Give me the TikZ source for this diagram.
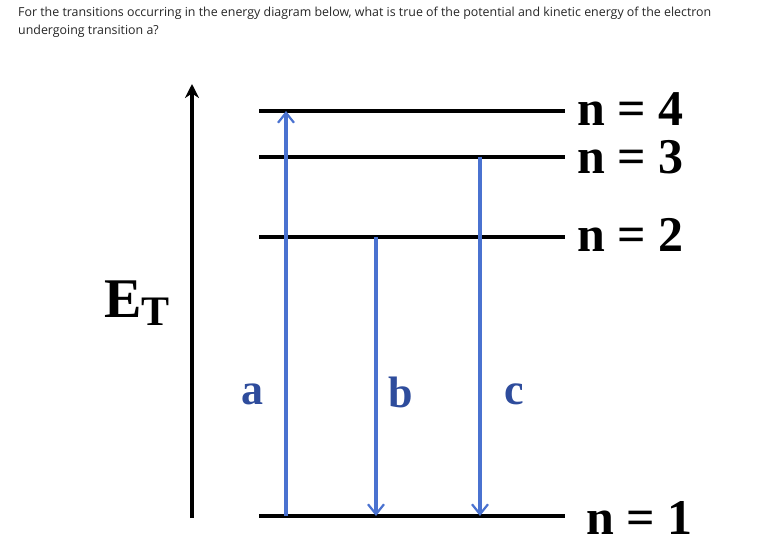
\documentclass[tikz,border=0pt]{standalone}
\usepackage{fontspec}
\setmainfont{Liberation Serif}
\newfontfamily\qfont{Open Sans}
\usetikzlibrary{arrows.meta}
\definecolor{arrblue}{HTML}{4A72D0}
\definecolor{lblblue}{HTML}{2E4C9C}
\begin{document}
\begin{tikzpicture}[x=1pt,y=-1pt,
  level/.style={line width=3.2pt},
  trans/.style={line width=3.4pt,arrblue,-{Straight Barb[length=10pt,width=16pt,line width=2.2pt]}},
  nlabel/.style={anchor=west,font=\bfseries\fontsize{50}{50}\selectfont,inner sep=0pt},
  tlabel/.style={font=\bfseries\fontsize{44}{44}\selectfont,lblblue,inner sep=0pt}]
\useasboundingbox (0,0) rectangle (772,539);
\node[anchor=north west,align=left,font=\qfont\fontsize{12.4}{18}\selectfont,text=black!85,inner sep=0pt] (q) at (18,7)
 {For the transitions occurring in the energy diagram below, what is true of the potential and kinetic energy of the electron\\undergoing transition a?};
\coordinate (ax0) at (192,518);
\coordinate (ax1) at (192,84);
\draw[line width=3.2pt,-{Stealth[length=14pt,width=14pt]}] (ax0) -- (ax1);
\node[font=\bfseries\fontsize{56}{56}\selectfont,inner sep=0pt] (E) at (137,303) {E\raisebox{-0.3ex}{\fontsize{42}{42}\selectfont T}};
\foreach \n/\y in {4/111,3/157,2/237,1/516}{
  \coordinate (L\n a) at (259,\y);
  \coordinate (L\n b) at (565,\y);
  \draw[level] (L\n a) -- (L\n b);
}
\node[nlabel] (n4) at (577,109) {n = 4};
\node[nlabel] (n3) at (577,157) {n = 3};
\node[nlabel] (n2) at (577,235) {n = 2};
\node[nlabel] (n1) at (586,518) {n = 1};
\coordinate (a0) at (286,516); \coordinate (a1) at (286,111);
\coordinate (b0) at (376,237); \coordinate (b1) at (376,516);
\coordinate (c0) at (480,157); \coordinate (c1) at (480,516);
\draw[trans] (a0) -- (a1);
\draw[trans] (b0) -- (b1);
\draw[trans] (c0) -- (c1);
\node[tlabel] (la) at (252,394) {a};
\node[tlabel] (lb) at (401,392) {b};
\node[tlabel] (lc) at (514,394) {c};
\end{tikzpicture}
\end{document}
